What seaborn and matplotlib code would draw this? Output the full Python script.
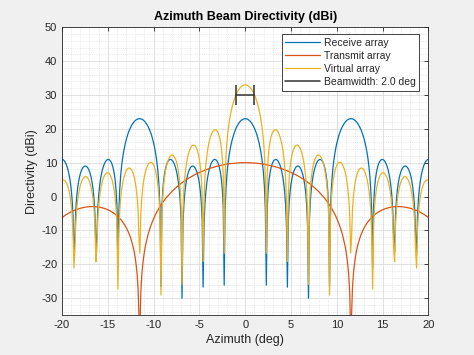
import numpy as np
import pandas as pd
import matplotlib
matplotlib.use("Agg")
import matplotlib.pyplot as plt
from matplotlib.ticker import MultipleLocator
import seaborn as sns

# Directivity (dBi), azimuth 0 to 20 deg in 0.1 deg steps.
# The chart is symmetric about 0 deg so only one side is kept.
az_step = 0.1

rx_half = [
    23.00, 22.97, 22.90, 22.76, 22.58, 22.34, 22.04, 21.68, 21.25, 20.76,
    20.20, 19.55, 18.81, 17.97, 17.02, 15.92, 14.66, 13.18, 11.42, 9.27,
    6.50, 2.62, -4.02, -26.18, -3.36, 1.95, 4.95, 6.92, 8.33, 9.33,
    10.05, 10.54, 10.82, 10.96, 10.92, 10.73, 10.39, 9.89, 9.20, 8.31,
    7.19, 5.76, 3.91, 1.40, -2.25, -8.81, -26.78, -7.00, -1.61, 1.56,
    3.73, 5.31, 6.52, 7.43, 8.09, 8.57, 8.87, 9.01, 8.99, 8.82,
    8.48, 7.97, 7.25, 6.29, 5.03, 3.34, 1.03, -2.41, -8.63, -30.06,
    -7.14, -1.46, 1.92, 4.25, 6.02, 7.39, 8.46, 9.32, 9.97, 10.45,
    10.76, 10.93, 10.95, 10.80, 10.50, 10.01, 9.28, 8.25, 6.84, 4.86,
    1.84, -3.50, -26.61, -4.09, 2.52, 6.39, 9.16, 11.31, 13.08, 14.55,
    15.83, 16.91, 17.88, 18.72, 19.43, 20.09, 20.66, 21.14, 21.58, 21.95,
    22.26, 22.51, 22.71, 22.86, 22.96, 23.00, 22.99, 22.93, 22.82, 22.66,
    22.45, 22.19, 21.87, 21.48, 21.04, 20.52, 19.94, 19.28, 18.52, 17.67,
    16.70, 15.58, 14.29, 12.83, 11.05, 8.87, 6.06, 2.09, -4.84, -21.45,
    -3.15, 1.93, 4.87, 6.82, 8.21, 9.22, 9.96, 10.45, 10.78, 10.94,
    10.95, 10.80, 10.53, 10.08, 9.51, 8.74, 7.78, 6.54, 5.00, 2.96,
    0.19, -3.98, -12.46, -16.31, -5.46, -0.89, 1.95, 3.92, 5.41, 6.56,
    7.43, 8.07, 8.53, 8.84, 8.99, 9.01, 8.88, 8.59, 8.16, 7.54,
    6.73, 5.65, 4.25, 2.40, -0.19, -4.16, -12.24, -17.00, -5.51, -0.74,
    2.27, 4.43, 6.08, 7.38, 8.40, 9.23, 9.87, 10.36, 10.70, 10.90,
    10.96]

tx_half = [
    10.00, 10.00, 10.00, 9.99, 9.98, 9.97, 9.96, 9.95, 9.93, 9.91,
    9.89, 9.87, 9.84, 9.82, 9.79, 9.76, 9.72, 9.69, 9.65, 9.61,
    9.57, 9.52, 9.47, 9.42, 9.36, 9.31, 9.25, 9.19, 9.14, 9.07,
    9.00, 8.93, 8.86, 8.79, 8.72, 8.64, 8.55, 8.46, 8.38, 8.29,
    8.20, 8.10, 8.00, 7.90, 7.80, 7.69, 7.59, 7.47, 7.35, 7.23,
    7.11, 6.99, 6.86, 6.72, 6.59, 6.45, 6.31, 6.17, 6.02, 5.85,
    5.69, 5.53, 5.37, 5.21, 5.03, 4.84, 4.65, 4.47, 4.28, 4.09,
    3.88, 3.66, 3.44, 3.23, 3.01, 2.78, 2.52, 2.27, 2.01, 1.76,
    1.50, 1.22, 0.92, 0.62, 0.31, 0.01, -0.29, -0.62, -0.98, -1.34,
    -1.71, -2.11, -2.50, -2.93, -3.37, -3.83, -4.32, -4.82, -5.36, -5.91,
    -6.54, -7.17, -7.86, -8.60, -9.38, -10.26, -11.15, -12.28, -13.41, -14.68,
    -16.24, -18.10, -20.42, -23.54, -28.36, -39.73, -35.33, -27.11, -23.02, -20.30,
    -18.26, -16.64, -15.31, -14.17, -13.19, -12.32, -11.55, -10.86, -10.23, -9.66,
    -9.14, -8.66, -8.22, -7.82, -7.44, -7.09, -6.76, -6.45, -6.17, -5.90,
    -5.67, -5.43, -5.21, -5.00, -4.81, -4.64, -4.47, -4.32, -4.17, -4.04,
    -3.91, -3.79, -3.68, -3.57, -3.49, -3.41, -3.34, -3.27, -3.21, -3.16,
    -3.11, -3.07, -3.04, -3.01, -2.99, -2.97, -2.97, -2.97, -2.98, -2.98,
    -2.99, -3.02, -3.05, -3.08, -3.12, -3.16, -3.21, -3.26, -3.33, -3.39,
    -3.47, -3.55, -3.63, -3.72, -3.81, -3.91, -4.02, -4.14, -4.26, -4.38,
    -4.52, -4.65, -4.80, -4.95, -5.11, -5.28, -5.45, -5.64, -5.83, -6.03,
    -6.23]

vir_half = [
    33.00, 32.97, 32.90, 32.75, 32.56, 32.31, 32.00, 31.63, 31.18, 30.67,
    30.09, 29.42, 28.65, 27.79, 26.81, 25.68, 24.38, 22.87, 21.07, 18.88,
    16.07, 12.14, 5.45, -16.76, 6.00, 11.26, 14.20, 16.11, 17.47, 18.40,
    19.05, 19.47, 19.68, 19.75, 19.64, 19.37, 18.94, 18.35, 17.58, 16.60,
    15.39, 13.86, 11.91, 9.30, 5.55, -1.12, -19.19, 0.47, 5.74, 8.79,
    10.84, 12.30, 13.38, 14.15, 14.68, 15.02, 15.18, 15.18, 15.01, 14.67,
    14.17, 13.50, 12.62, 11.50, 10.06, 8.18, 5.68, 2.06, -4.35, -25.97,
    -3.26, 2.20, 5.36, 7.48, 9.03, 10.17, 10.98, 11.59, 11.98, 12.21,
    12.26, 12.15, 11.87, 11.42, 10.81, 10.02, 8.99, 7.63, 5.86, 3.52,
    0.13, -5.61, -29.11, -7.02, -0.85, 2.56, 4.84, 6.49, 7.72, 8.64,
    9.29, 9.74, 10.02, 10.12, 10.05, 9.83, 9.51, 8.86, 8.17, 7.27,
    6.02, 4.41, 2.29, -0.68, -5.40, -16.73, -12.34, -4.18, -0.20, 2.36,
    4.19, 5.55, 6.56, 7.31, 7.85, 8.20, 8.39, 8.42, 8.29, 8.01,
    7.56, 6.92, 6.07, 5.01, 3.61, 1.78, -0.70, -4.36, -11.01, -27.35,
    -8.82, -3.50, -0.34, 1.82, 3.40, 4.58, 5.49, 6.13, 6.61, 6.90,
    7.04, 7.01, 6.85, 6.51, 6.02, 5.33, 4.44, 3.27, 1.79, -0.20,
    -2.92, -7.05, -15.50, -19.32, -8.45, -3.86, -1.02, 0.95, 2.43, 3.58,
    4.44, 5.05, 5.48, 5.76, 5.87, 5.85, 5.67, 5.33, 4.83, 4.15,
    3.26, 2.10, 0.62, -1.32, -4.00, -8.07, -16.26, -21.14, -9.77, -5.12,
    -2.25, -0.22, 1.28, 2.43, 3.29, 3.95, 4.42, 4.72, 4.87, 4.87,
    4.73]

series_names = ["Receive array", "Transmit array", "Virtual array"]
series_colors = ["#0072BD", "#D95319", "#EDB120"]

# beamwidth marker on the virtual array main lobe
beamwidth = 2.0
bw_level = 30.0
bw_cap = 3.0


def mirror(vals):
    vals = np.asarray(vals, dtype=float)
    return np.concatenate([vals[:0:-1], vals])


az_half = np.round(np.arange(len(rx_half)) * az_step, 1)
az = np.concatenate([-az_half[:0:-1], az_half])

frames = []
for name, vals in zip(series_names, [rx_half, tx_half, vir_half]):
    frames.append(pd.DataFrame({"az": az, "dbi": mirror(vals), "series": name}))
df = pd.concat(frames, ignore_index=True)

sns.set_style("white")
plt.rcParams["font.family"] = ["Liberation Sans", "DejaVu Sans"]
plt.rcParams["axes.unicode_minus"] = False

fig = plt.figure(figsize=(4.74, 3.55), dpi=100, facecolor="#F0F0F0")
ax = fig.add_axes([0.1308, 0.1127, 0.7732, 0.8104])

sns.lineplot(data=df, x="az", y="dbi", hue="series", hue_order=series_names,
             palette=dict(zip(series_names, series_colors)),
             estimator=None, sort=False, lw=0.9, ax=ax)

bw_color = "#333333"
ax.plot([-beamwidth / 2, beamwidth / 2], [bw_level, bw_level], color=bw_color,
        lw=1.1, label="Beamwidth: %.1f deg" % beamwidth)
ax.vlines([-beamwidth / 2, beamwidth / 2], bw_level - bw_cap, bw_level + bw_cap,
          color=bw_color, lw=1.1)

ax.set_xlim(-20, 20)
ax.set_ylim(-35, 50)
ax.set_xticks(np.arange(-20, 21, 5))
ax.set_yticks(np.arange(-30, 51, 10))
ax.xaxis.set_minor_locator(MultipleLocator(1))
ax.yaxis.set_minor_locator(MultipleLocator(2))
ax.grid(which="major", color="#dcdcdc", lw=0.6)
ax.grid(which="minor", color="#d8d8d8", lw=0.5, ls=":")
ax.set_axisbelow(True)
ax.tick_params(which="major", direction="in", length=3, top=True, right=True,
               labelsize=8, colors="#262626", width=0.6)
ax.tick_params(which="minor", length=0)
for sp in ax.spines.values():
    sp.set_color("#262626")
    sp.set_linewidth(0.6)

ax.set_xlabel("Azimuth (deg)", fontsize=9, color="#262626", labelpad=3)
ax.set_ylabel("Directivity (dBi)", fontsize=9, color="#262626", labelpad=2)
ax.set_title("Azimuth Beam Directivity (dBi)", fontsize=9, fontweight="bold",
             color="#000000", pad=5)

handles, labels = ax.get_legend_handles_labels()
leg = ax.legend(handles, labels, loc="upper right", bbox_to_anchor=(0.975, 0.977),
                borderaxespad=0, fontsize=7.5, handlelength=3.3, handletextpad=0.4,
                labelspacing=0.3, borderpad=0.35, fancybox=False, framealpha=1,
                edgecolor="#262626")
leg.get_frame().set_linewidth(0.6)

fig.savefig("out.png", dpi=100, facecolor=fig.get_facecolor())
